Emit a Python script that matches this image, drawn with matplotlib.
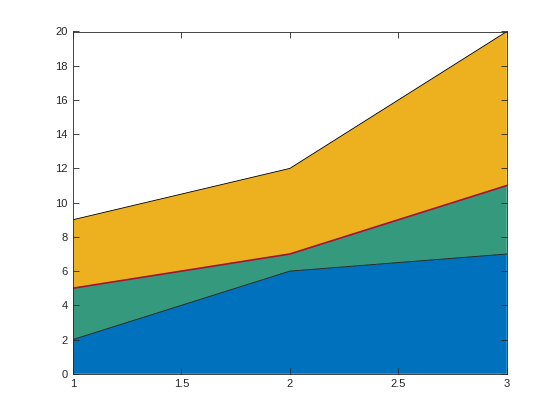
import matplotlib
matplotlib.use("Agg")
import matplotlib.pyplot as plt
import numpy as np

plt.rcParams['font.family'] = ['Liberation Sans', 'DejaVu Sans']

x = [1, 2, 3]
s1 = [2, 6, 7]
s2 = [3, 1, 4]
s3 = [4, 5, 9]
colors = ["#0072BD", "#359A7D", "#EDB120"]
edge_colors = ["#1A1A1A", "#A2142F", "#000000"]
edge_widths = [0.6, 1.2, 0.6]

fig = plt.figure(figsize=(5.6, 4.2), dpi=100)
ax = fig.add_axes([0.13, 0.11, 0.775, 0.815])

series = [s1, s2, s3]
base = np.zeros(len(x))
for s, c in zip(series, colors):
    top = base + np.array(s)
    ax.fill_between(x, base, top, facecolor=c, edgecolor="none", linewidth=0)
    base = top
base = np.zeros(len(x))
for s, ec, lw in zip(series, edge_colors, edge_widths):
    top = base + np.array(s)
    ax.plot(x, top, color=ec, linewidth=lw, solid_joinstyle="miter")
    base = top

ax.set_xlim(1, 3)
ax.set_ylim(0, 20)
ax.set_xticks([1, 1.5, 2, 2.5, 3])
ax.set_xticklabels(["1", "1.5", "2", "2.5", "3"])
ax.set_yticks(range(0, 21, 2))
for sp in ax.spines.values():
    sp.set_linewidth(0.6)
    sp.set_color("#262626")
ax.tick_params(direction="in", length=4, width=0.6, labelsize=8, colors="#262626", top=True, right=True, labeltop=False, labelright=False)

fig.savefig("out.png", dpi=100)
